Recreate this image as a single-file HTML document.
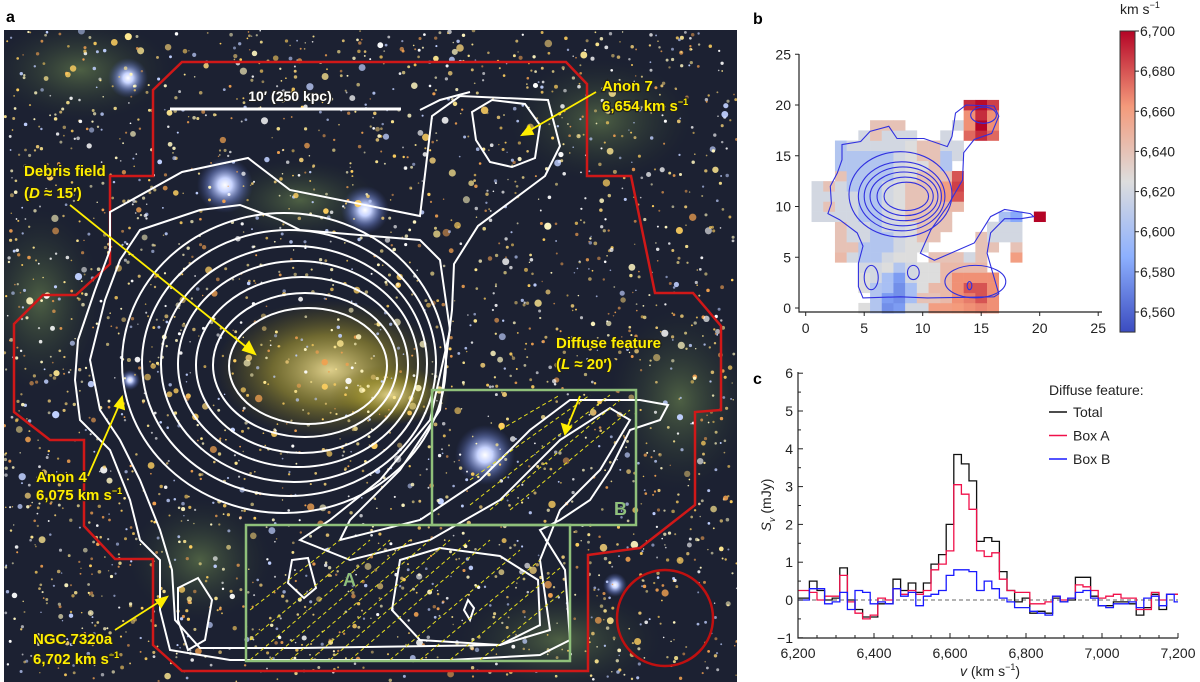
<!DOCTYPE html>
<html><head><meta charset="utf-8"><style>
html,body{margin:0;padding:0;background:#fff;width:1200px;height:682px;overflow:hidden}
svg{display:block;font-family:"Liberation Sans",sans-serif}
.yl{font-family:"Liberation Sans",sans-serif;font-weight:bold;font-size:15px;fill:#ffee00;stroke:#222;stroke-width:2.5px;paint-order:stroke}
</style></head><body>
<svg id="root" width="1200" height="682" viewBox="0 0 1200 682">
<defs>
<radialGradient id="gy" cx="50%" cy="50%" r="50%"><stop offset="0" stop-color="#e8d890" stop-opacity="0.95"/><stop offset="0.5" stop-color="#a89a30" stop-opacity="0.6"/><stop offset="1" stop-color="#6a6010" stop-opacity="0"/></radialGradient>
<radialGradient id="gb" cx="50%" cy="50%" r="50%"><stop offset="0" stop-color="#ffffff"/><stop offset="0.25" stop-color="#c8d4ff"/><stop offset="0.6" stop-color="#6f82c8" stop-opacity="0.6"/><stop offset="1" stop-color="#3a4a90" stop-opacity="0"/></radialGradient>
<radialGradient id="gg" cx="50%" cy="50%" r="50%"><stop offset="0" stop-color="#6f8a50" stop-opacity="0.6"/><stop offset="1" stop-color="#304030" stop-opacity="0"/></radialGradient>
<linearGradient id="cbar" x1="0" y1="1" x2="0" y2="0">
<stop offset="0" stop-color="#3b4cc0"/><stop offset="0.25" stop-color="#8db0fe"/><stop offset="0.5" stop-color="#dddddd"/><stop offset="0.75" stop-color="#f49a7b"/><stop offset="1" stop-color="#b40426"/></linearGradient>
<clipPath id="clipA"><rect x="4" y="30" width="733" height="652"/></clipPath>
<clipPath id="clipC"><rect x="798" y="360" width="381" height="278"/></clipPath>
</defs>

<text x="6" y="22" font-size="16" font-weight="bold">a</text>
<text x="753" y="24" font-size="16" font-weight="bold">b</text>
<text x="753" y="384" font-size="16" font-weight="bold">c</text>

<g id="panelA" clip-path="url(#clipA)">
<rect x="4" y="30" width="733" height="652" fill="#1c2132"/>
<g id="glows">
<ellipse cx="80" cy="70" rx="90" ry="50" fill="url(#gg)"/>
<ellipse cx="600" cy="120" rx="90" ry="60" fill="url(#gg)"/>
<ellipse cx="300" cy="200" rx="80" ry="40" fill="url(#gg)"/>
<ellipse cx="40" cy="300" rx="60" ry="90" fill="url(#gg)"/>
<ellipse cx="560" cy="640" rx="100" ry="50" fill="url(#gg)"/>
<ellipse cx="680" cy="400" rx="70" ry="90" fill="url(#gg)"/>
<ellipse cx="200" cy="560" rx="70" ry="60" fill="url(#gg)"/>
<ellipse cx="330" cy="370" rx="115" ry="70" fill="url(#gy)"/>
<ellipse cx="390" cy="395" rx="60" ry="30" fill="url(#gy)"/>
<circle cx="225" cy="185" r="28" fill="url(#gb)"/>
<circle cx="365" cy="210" r="24" fill="url(#gb)"/>
<circle cx="485" cy="455" r="30" fill="url(#gb)"/>
<circle cx="128" cy="78" r="20" fill="url(#gb)"/>
<circle cx="615" cy="585" r="12" fill="url(#gb)"/>
<circle cx="130" cy="380" r="10" fill="url(#gb)"/>
</g>
<g id="stars"></g>
<polygon points="153,90 182,62 566,62 587,84 587,176 631,176 655,293 693,293 721,326 721,410 695,412 695,505 640,548 588,555 588,671 182,671 153,645 153,559 115,559 84,526 84,440 50,440 14,412 14,324 43,295 76,295 110,264 110,176 153,176" fill="none" stroke="#d01818" stroke-width="2.5"/>
<circle cx="665" cy="618" r="48" fill="none" stroke="#c01010" stroke-width="2.5"/>
<g id="whiteC" fill="none" stroke="#ffffff" stroke-width="2">
<path d="M110,212 L182,172 L248,158 L290,190 L420,216 L432,116 L460,96 L548,100 L560,146 L545,176 L478,226 L454,264 L452,310 L440,410 L400,470 L350,520 L340,540 L420,520 L480,480 L530,430 L570,400 L640,400 L668,405 L660,420 L630,430 L610,470 L590,500 L560,520 L540,530 L565,570 L570,640 L540,655 L450,660 L230,660 L170,650 L160,610 L160,560 L140,540 L130,500 L110,450 L80,420 L75,380 L78,340 L95,290 L110,250 Z"/>
<path d="M140,230 L200,210 L240,205 L280,220 L300,230 L420,240 L440,260 L450,330 L430,420 L380,480 L330,520 L300,540 L350,560 L430,540 L500,500 L560,440 L610,408 L630,420 L600,470 L560,510 L540,560 L550,630 L500,645 L300,648 L200,648 L175,620 L172,570 L160,530 L140,480 L120,440 L100,410 L90,360 L105,300 L120,260 Z"/>
<path d="M472,112 L492,100 L525,104 L540,125 L535,158 L512,167 L490,162 L476,140 Z"/>
<path d="M420,110 L440,100 L470,92" />
<ellipse cx="308" cy="366" rx="79" ry="58"/>
<ellipse cx="305" cy="365" rx="92" ry="72"/>
<ellipse cx="302" cy="365" rx="106" ry="88"/>
<ellipse cx="298" cy="364" rx="120" ry="103"/>
<ellipse cx="294" cy="364" rx="133" ry="118"/>
<ellipse cx="289" cy="363" rx="147" ry="133"/>
<ellipse cx="284" cy="363" rx="162" ry="150"/>
<path d="M178,588 L198,578 L212,600 L205,640 L188,650 L178,620 Z"/>
<path d="M292,560 L308,558 L316,588 L304,598 L288,583 Z"/>
<path d="M400,560 L440,548 L500,556 L538,580 L540,625 L500,645 L420,640 L392,610 Z"/>
<path d="M468,600 L474,608 L470,620 L464,610 Z"/>
</g>
<g stroke="#e8e020" stroke-width="1" stroke-dasharray="4,3" fill="none">
<line x1="250" y1="660" x2="390" y2="540"/><line x1="270" y1="660" x2="410" y2="540"/><line x1="290" y1="660" x2="430" y2="540"/><line x1="310" y1="660" x2="450" y2="540"/><line x1="330" y1="660" x2="470" y2="540"/><line x1="350" y1="660" x2="490" y2="540"/><line x1="250" y1="640" x2="370" y2="540"/><line x1="250" y1="610" x2="340" y2="540"/><line x1="390" y1="660" x2="520" y2="550"/><line x1="420" y1="660" x2="540" y2="560"/><line x1="450" y1="660" x2="560" y2="568"/><line x1="480" y1="660" x2="565" y2="590"/>
<line x1="490" y1="510" x2="620" y2="400"/><line x1="510" y1="510" x2="630" y2="410"/><line x1="470" y1="505" x2="610" y2="395"/><line x1="470" y1="480" x2="590" y2="395"/><line x1="500" y1="430" x2="560" y2="395"/>
</g>
<rect x="246" y="525" width="324" height="136" fill="none" stroke="#8fc07a" stroke-width="2.5"/>
<rect x="432" y="390" width="204" height="135" fill="none" stroke="#8fc07a" stroke-width="2.5"/>
<text x="343" y="586" font-size="18" font-weight="bold" fill="#8fc07a" stroke="#224" stroke-width="1" paint-order="stroke">A</text>
<text x="614" y="515" font-size="18" font-weight="bold" fill="#8fc07a" stroke="#224" stroke-width="1" paint-order="stroke">B</text>
<line x1="170" y1="109" x2="401" y2="109" stroke="#fff" stroke-width="3"/>
<text x="290" y="101" text-anchor="middle" font-size="14" font-weight="bold" fill="#fff" stroke="#222" stroke-width="2" paint-order="stroke">10′ (250 kpc)</text>
<g stroke="#ffee00" stroke-width="1.8" fill="#ffee00">
<line x1="70" y1="205" x2="250" y2="350"/><polygon points="255,354 243,350 249,342"/>
<line x1="596" y1="92" x2="527" y2="132"/><polygon points="522,135 529,126 533,134"/>
<line x1="580" y1="396" x2="567" y2="428"/><polygon points="565,434 562,424 571,427"/>
<line x1="88" y1="476" x2="120" y2="403"/><polygon points="122,397 124,409 115,406"/>
<line x1="115" y1="630" x2="162" y2="600"/><polygon points="167,597 161,607 156,600"/>
</g>
<text class="yl" x="24" y="176">Debris field</text>
<text class="yl" x="24" y="198">(<tspan font-style="italic">D</tspan> ≈ 15′)</text>
<text class="yl" x="602" y="91">Anon 7</text>
<text class="yl" x="602" y="111">6,654 km s<tspan font-size="9" dy="-6">−1</tspan></text>
<text class="yl" x="556" y="348">Diffuse feature</text>
<text class="yl" x="556" y="369">(<tspan font-style="italic">L</tspan> ≈ 20′)</text>
<text class="yl" x="36" y="482">Anon 4</text>
<text class="yl" x="36" y="500">6,075 km s<tspan font-size="9" dy="-6">−1</tspan></text>
<text class="yl" x="33" y="644">NGC 7320a</text>
<text class="yl" x="33" y="664">6,702 km s<tspan font-size="9" dy="-6">−1</tspan></text>
</g>

<g id="panelB"></g>
<g id="panelC"></g>
</svg>
<script>
// ---------- Panel b data ----------
const bYRows = [0,1,2,3,4,5,6,7,8,9,10,11,12,13,14,15,16,17,18,19,20];
const bXStart = [5,6,5,5,5,3,3,3,3,1,1,1,1,3,3,3,3,5,6,14,14];
const bVel = [
 [6625,6605,6575,6580,6620,6620,6660,6660,6662,6665,6668,6665],
 [6605,6580,6575,6600,6640,6640,6645,6665,6670,6680,6665],
 [6625,6605,6600,6575,6600,6625,6645,6645,6665,6680,6680,6665],
 [6625,6620,6600,6580,6620,6625,6625,6645,6665,6665,6665,6665],
 [6620,6620,6625,6605,6620,6625,6625,6645,6645,6645,6645],
 [6645,6620,6605,6605,6620,6625,6625,null,6640,6640,6640,6620,6640,null,null,6660],
 [6640,6640,6605,6605,6605,6620,6625,6625,null,null,null,null,6640,6640,null,6640],
 [6640,6620,6620,6605,6605,6620,6625,6640,6640,null,null,null,6640,6620,6620,6620],
 [6640,6620,6620,6605,6620,6620,6625,6640,6640,6640,null,null,null,6620,6620,6620],
 [6620,6620,6620,6620,6605,6605,6620,6625,6640,6640,6640,6640,null,null,null,null,6600,6585,null,6700],
 [6620,6640,6620,6620,6605,6605,6620,6625,6640,6640,6640,6645,6645],
 [6620,6620,6620,6620,6605,6605,6620,6625,6640,6640,6640,6660,6680],
 [6620,6640,6620,6605,6605,6605,6620,6625,6640,6640,6640,6660,6685],
 [6640,6605,6605,6605,6605,6620,6625,6640,6640,6640,6680],
 [6605,6605,6605,6605,6605,6620,6625,6625,6640,6605],
 [6605,6605,6605,6605,6605,6620,6625,6640,6640,6605,6620],
 [6605,6620,6620,6620,6620,6620,6625,6640,6640,6620,6620],
 [6620,6640,6620,6620,6620,null,null,6620,null,6675,6690,6675],
 [6640,6640,6640,null,null,null,null,6620,6665,6700,6665],
 [6665,6690,6665],
 [6690,6698,6685]
];
const bTicks = [0,5,10,15,20,25];
const cbarTicks = [6560,6580,6600,6620,6640,6660,6680,6700];
const bOuter = [[3.1,16.1],[4.7,16.4],[5.5,17.4],[7.1,17.9],[7.8,16.7],[10.1,16.7],[12.1,15.9],[12.5,16.9],[12.8,19.2],[13.7,20.0],[16.1,19.9],[16.5,18.9],[15.9,17.2],[14.4,16.6],[13.5,15.3],[13.4,12.6],[12.1,10.0],[10.7,7.7],[9.8,5.4],[11.0,4.7],[14.4,6.4],[15.8,9.0],[17.0,9.7],[19.2,9.3],[19.5,9.0],[18.4,8.8],[17.0,8.8],[15.8,7.4],[15.5,5.4],[15.9,3.8],[16.5,1.4],[16.1,1.1],[10.4,1.0],[8.1,1.1],[4.9,1.0],[4.5,2.1],[4.5,4.4],[4.9,6.1],[4.4,7.4],[2.9,8.7],[1.9,9.3],[2.2,10.3],[2.1,12.0],[2.7,13.3],[3.1,14.6]];
const bRings = [[8.6,11,1.9,1.4],[8.5,11,2.4,1.9],[8.4,11,2.9,2.4],[8.3,11,3.3,2.9],[8.2,11,3.7,3.4],[8.1,11.2,4.4,4.2]];
const bBlobs = [[14.5,2.6,2.6,1.6],[15.2,19.0,1.1,0.8],[5.6,3.0,0.6,1.2],[9.2,3.5,0.5,0.7],[14.0,2.2,0.2,0.4]];

// ---------- Panel c data ----------
const cV0 = 6200, cStep = 20;
const cTotal = [0.05,0.05,0.5,0.25,0.0,0.05,0.85,0.0,-0.25,-0.45,-0.45,-0.1,-0.1,0.55,0.25,0.45,0.2,0.45,0.95,1.2,2.0,3.85,3.6,3.15,1.55,1.65,1.55,0.75,0.25,-0.05,0.05,-0.35,-0.3,-0.35,0.05,-0.05,0.0,0.6,0.6,0.1,-0.15,-0.15,-0.05,-0.05,-0.1,-0.4,-0.2,0.15,-0.25,0.15,0.15];
const cBoxA = [0.25,0.25,0.2,0.0,0.1,0.1,0.65,-0.05,-0.35,-0.5,-0.4,0.05,0.0,0.3,0.15,0.25,0.15,0.25,0.8,0.95,1.3,3.05,2.8,2.4,1.3,1.15,1.25,0.55,0.25,0.2,0.2,-0.1,-0.1,-0.05,0.1,0.0,0.05,0.4,0.35,0.25,0.05,0.1,0.15,0.05,0.05,-0.25,-0.25,0.2,0.0,0.15,0.15];
const cBoxB = [0.0,0.0,0.3,0.3,-0.1,-0.05,0.2,-0.25,0.25,0.2,-0.1,-0.05,-0.1,0.3,0.1,0.2,-0.15,0.1,0.15,0.25,0.65,0.8,0.8,0.75,0.25,0.5,0.3,0.05,-0.05,-0.2,-0.2,-0.3,-0.35,-0.4,0.1,-0.05,0.05,0.2,0.25,0.05,-0.15,-0.2,-0.1,-0.1,-0.05,-0.2,0.05,0.1,-0.15,0.15,-0.05];
const cXTicks = [6200,6400,6600,6800,7000,7200];
const cYTicks = [-1,0,1,2,3,4,5,6];
const cLegend = ["Total","Box A","Box B"];

const NS = "http://www.w3.org/2000/svg";
function mk(tag, attrs, parent){ const e=document.createElementNS(NS,tag); for(const k in attrs) e.setAttribute(k,attrs[k]); parent.appendChild(e); return e; }

(function(){
  const g=document.getElementById('stars'); let s=12345;
  function r(){ s=(s*1103515245+12345)%2147483648; return s/2147483648; }
  const cols=['#fff6c0','#ffffff','#ffd060','#c0d0ff','#ffe890','#e0c070','#f0a050'];
  for(let i=0;i<2800;i++){
    const x=4+r()*733, y=30+r()*652, rr=r()<0.88?0.7+r()*1.1:1.8+r()*2.0;
    mk('circle',{cx:x.toFixed(1),cy:y.toFixed(1),r:rr.toFixed(2),fill:cols[Math.floor(r()*cols.length)],opacity:(0.55+r()*0.45).toFixed(2)},g);
  }
})();

const bx = v => 805.7 + 11.7*v;
const by = v => 308 - 10.15*v;
function coolwarm(v){
  const t=Math.max(0,Math.min(1,(v-6550)/150));
  const st=[[0,[59,76,192]],[0.25,[141,176,254]],[0.5,[221,221,221]],[0.75,[244,154,123]],[1,[180,4,38]]];
  for(let i=0;i<st.length-1;i++){ if(t<=st[i+1][0]){ const f=(t-st[i][0])/(st[i+1][0]-st[i][0]); const a=st[i][1],b=st[i+1][1]; return 'rgb('+a.map((c,k)=>Math.round(c+(b[k]-c)*f)).join(',')+')'; } }
  return 'rgb(180,4,38)';
}
(function(){
  const g=document.getElementById('panelB');
  bYRows.forEach((yv,ri)=>{
    bVel[ri].forEach((val,ci)=>{
      if(val==null) return;
      const xv=bXStart[ri]+ci;
      const c=mk('rect',{x:bx(xv-0.5).toFixed(2),y:by(yv+0.5).toFixed(2),width:(11.7+0.3).toFixed(2),height:(10.15+0.3).toFixed(2),fill:coolwarm(val)},g);
      
      
    });
  });
  const pd='M'+bOuter.map(p=>bx(p[0]).toFixed(1)+','+by(p[1]).toFixed(1)).join(' L')+' Z';
  const o=mk('path',{d:pd,fill:'none',stroke:'#3030e0','stroke-width':1.1},g);
  
  
  bRings.concat(bBlobs).forEach(r=>{
    const e=mk('ellipse',{cx:bx(r[0]),cy:by(r[1]),rx:r[2]*11.7,ry:r[3]*10.15,fill:'none',stroke:'#3030e0','stroke-width':1.1},g);
    
    
  });
  const ax=mk('path',{d:'M799,54 L799,312 L1102,312',fill:'none',stroke:'#222','stroke-width':1.2},g);
  
  
  bTicks.forEach(t=>{
    mk('line',{x1:bx(t),x2:bx(t),y1:312,y2:316,stroke:'#222'},g);
    const tx=mk('text',{x:bx(t),y:333,'text-anchor':'middle','font-size':14,fill:'#222'},g); tx.textContent=t;
    
    
    mk('line',{x1:795,x2:799,y1:by(t),y2:by(t),stroke:'#222'},g);
    const ty=mk('text',{x:791,y:by(t)+5,'text-anchor':'end','font-size':14,fill:'#222'},g); ty.textContent=t;
    
    
  });
  const cy = v => 31 + (6700-v)*(281/140);
  const cb=mk('rect',{x:1120,y:cy(6700),width:15,height:cy(6550)-cy(6700),fill:'url(#cbar)',stroke:'#333','stroke-width':1},g);
  
  
  cbarTicks.forEach(t=>{
    mk('line',{x1:1135,x2:1139,y1:cy(t),y2:cy(t),stroke:'#222'},g);
    const tt=mk('text',{x:1140,y:cy(t)+5,'font-size':14,fill:'#222'},g); tt.textContent=t.toLocaleString('en-US');
    
    
  });
  const u=mk('text',{x:1120,y:14,'font-size':14,fill:'#222'},g); u.innerHTML='km s<tspan font-size="9" dy="-6">−1</tspan>';
  
  
})();

const cx = v => 798 + (v-6200)*0.38;
const cyy = v => 600 - 37.8*v;
(function(){
  const g=document.getElementById('panelC');
  mk('line',{x1:798,x2:1178,y1:cyy(0),y2:cyy(0),stroke:'#333','stroke-width':0.8,'stroke-dasharray':'4,3'},g);
  function stepPath(arr){
    let d='';
    arr.forEach((v,i)=>{
      const c=cV0+i*cStep; const a=Math.max(6200,c-cStep/2), b=Math.min(7200,c+cStep/2);
      d+=(i===0?'M':'L')+cx(a).toFixed(1)+','+cyy(v).toFixed(1)+' L'+cx(b).toFixed(1)+','+cyy(v).toFixed(1)+' ';
    });
    return d;
  }
  const series=[[cTotal,'#111','series-total'],[cBoxA,'#f0104a','series-box-a'],[cBoxB,'#1a1aff','series-box-b']];
  const clipG=mk('g',{'clip-path':'url(#clipC)'},g);
  series.forEach(s=>{
    const p=mk('path',{d:stepPath(s[0]),fill:'none',stroke:s[1],'stroke-width':1.3},clipG);
    
    
  });
  const ax=mk('path',{d:'M798,372 L798,638 L1178,638',fill:'none',stroke:'#222','stroke-width':1.2},g);
  
  
  for(let v=6200;v<=7200;v+=50){ mk('line',{x1:cx(v),x2:cx(v),y1:638,y2:v%200===0?633:635,stroke:'#222'},g); }
  cXTicks.forEach(t=>{
    const tx=mk('text',{x:cx(t),y:658,'text-anchor':'middle','font-size':14,fill:'#222'},g); tx.textContent=t.toLocaleString('en-US');
    
    
  });
  for(let v=-1;v<=6;v+=0.5){ mk('line',{x1:798,x2:v%1===0?803:801,y1:cyy(v),y2:cyy(v),stroke:'#222'},g); }
  cYTicks.forEach(t=>{
    const ty=mk('text',{x:793,y:cyy(t)+5,'text-anchor':'end','font-size':14,fill:'#222'},g); ty.textContent=t<0?'−'+(-t):t;
    
    
  });
  const xl=mk('text',{x:990,y:676,'text-anchor':'middle','font-size':14,fill:'#222'},g);
  xl.innerHTML='<tspan font-style="italic">v</tspan> (km s<tspan font-size="9" dy="-6">−1</tspan><tspan dy="6">)</tspan>';
  
  
  const yl=mk('text',{x:0,y:0,'text-anchor':'middle','font-size':14,fill:'#222',transform:'translate(771,505) rotate(-90)'},g);
  yl.innerHTML='<tspan font-style="italic">S</tspan><tspan font-style="italic" font-size="9" dy="4">v</tspan><tspan dy="-4"> (mJy)</tspan>';
  
  
  const lt=mk('text',{x:1049,y:395,'font-size':14,fill:'#222'},g); lt.textContent='Diffuse feature:';
  
  
  cLegend.forEach((name,i)=>{
    const yy=412+i*23.5;
    const ln=mk('line',{x1:1049,x2:1067,y1:yy,y2:yy,stroke:series[i][1],'stroke-width':1.4},g);
    
    
    const t=mk('text',{x:1073,y:yy+5,'font-size':14,fill:'#222'},g); t.textContent=name;
    
    
  });
})();
</script>
</body></html>
